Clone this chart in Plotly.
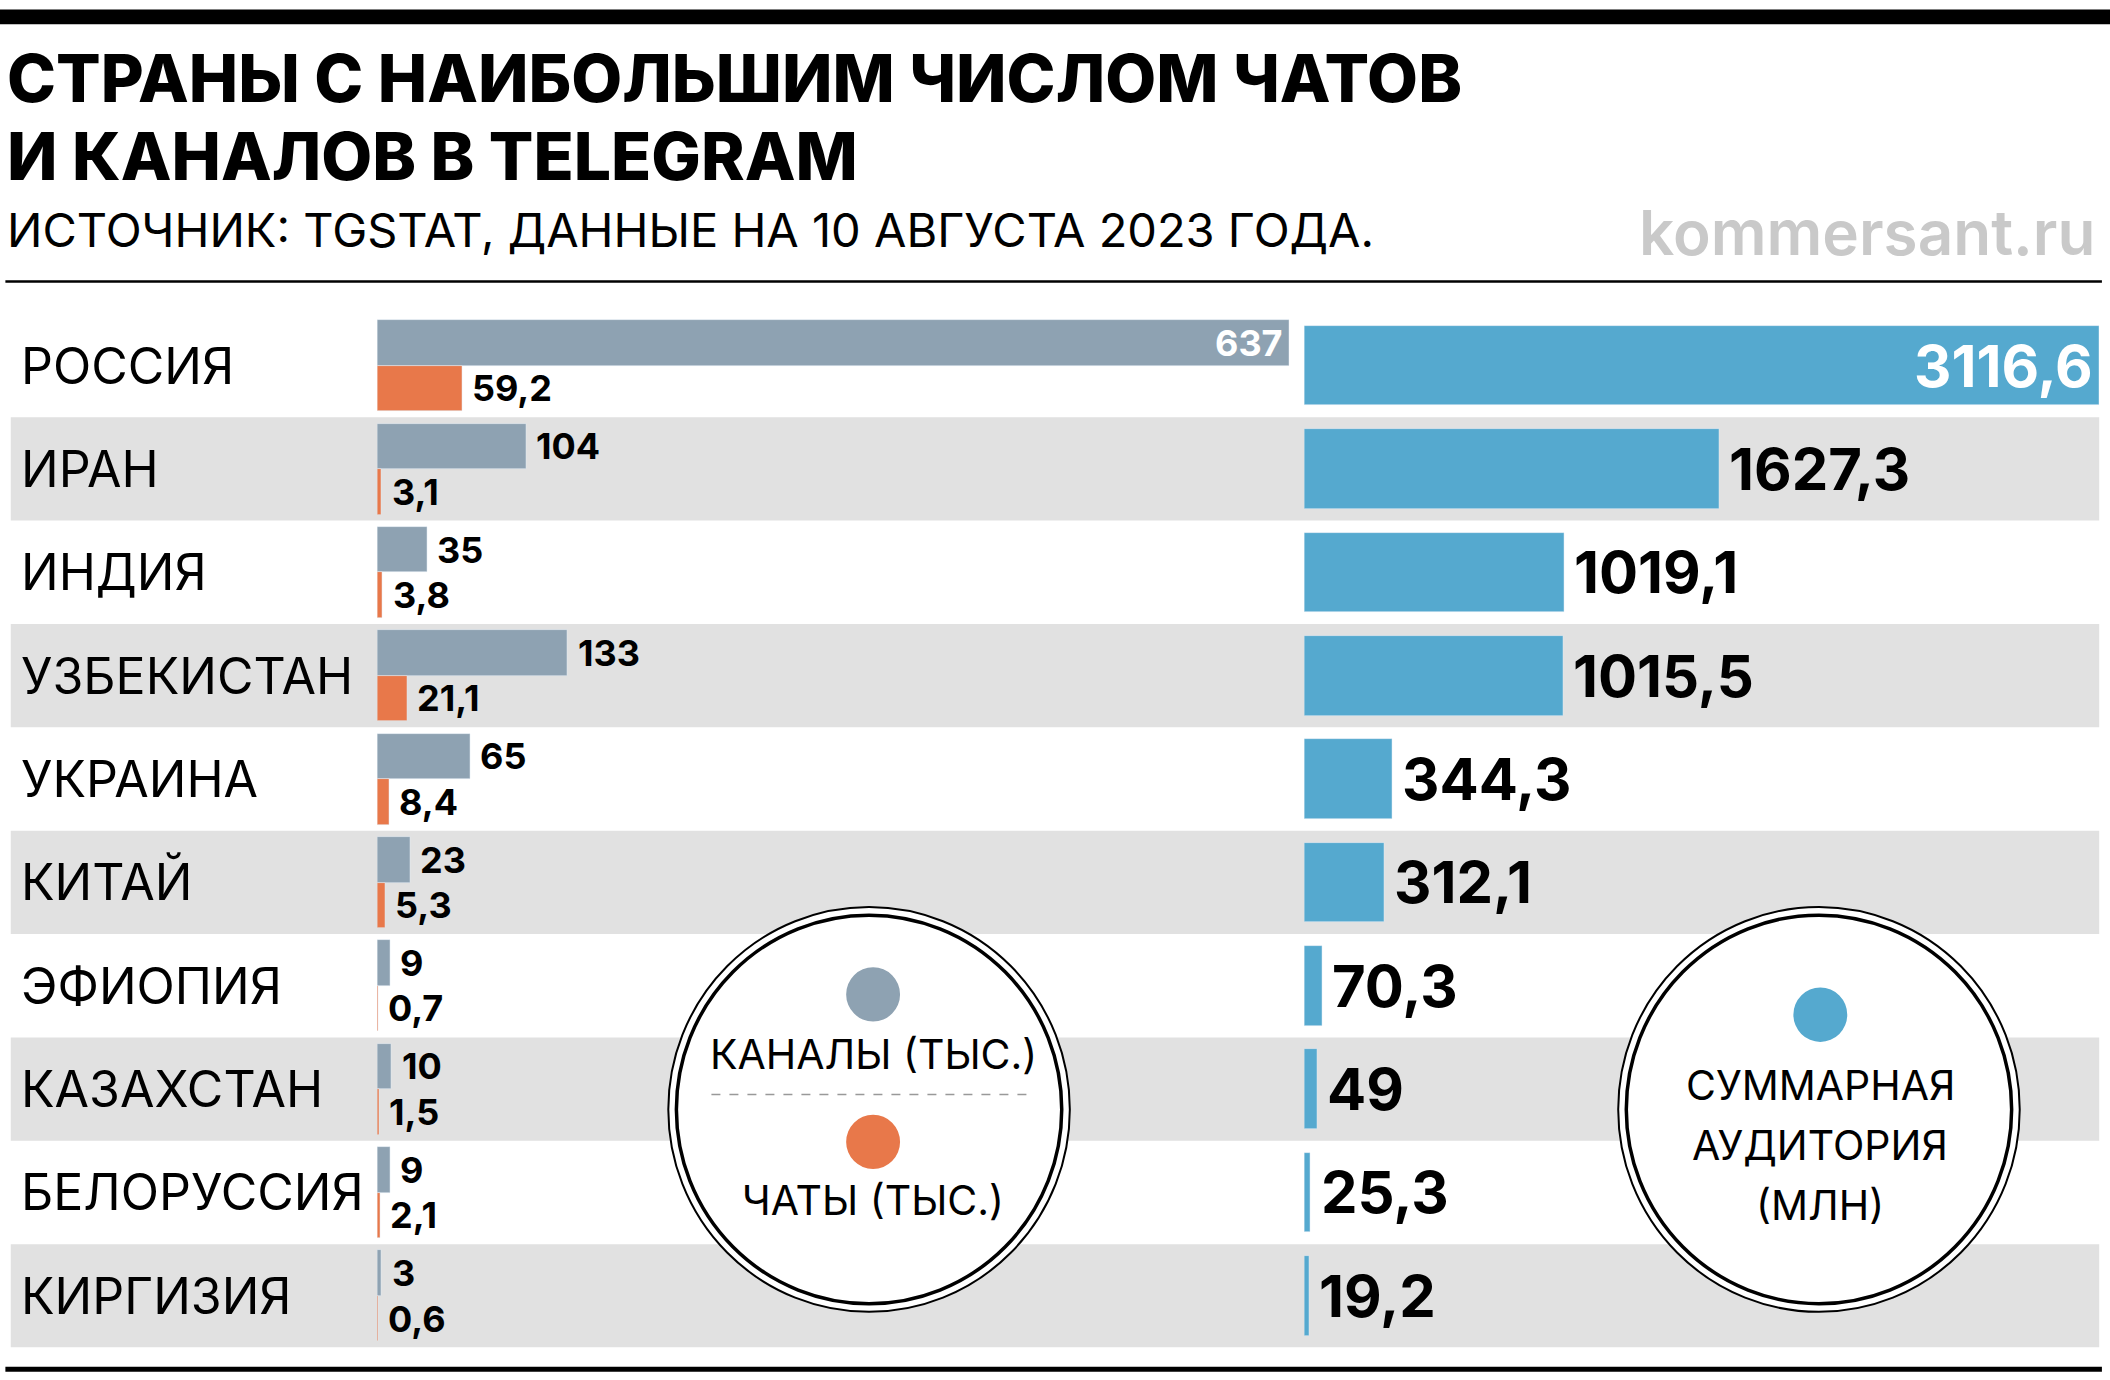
import plotly.graph_objects as go

countries = ["РОССИЯ", "ИРАН", "ИНДИЯ", "УЗБЕКИСТАН", "УКРАИНА", "КИТАЙ",
             "ЭФИОПИЯ", "КАЗАХСТАН", "БЕЛОРУССИЯ", "КИРГИЗИЯ"]
channels = [637, 104, 35, 133, 65, 23, 9, 10, 9, 3]
chats = [59.2, 3.1, 3.8, 21.1, 8.4, 5.3, 0.7, 1.5, 2.1, 0.6]
audience = [3116.6, 1627.3, 1019.1, 1015.5, 344.3, 312.1, 70.3, 49, 25.3, 19.2]

W, H = 2110, 1380
SW, SH = 1566, 1020  # reference sketch coordinates


def px(x, y):
    return x / SW, 1 - y / SH


def fmt(v):
    return str(v).replace(".", ",")


GREY = "#8ea2b2"
ORANGE = "#e8784a"
BLUE = "#55a9cf"
FONT = "Inter"

rows = list(range(len(countries)))
fig = go.Figure()

fig.add_trace(go.Bar(x=channels, y=[r - 0.22 for r in rows], width=0.44, orientation="h",
                     marker_color=GREY, xaxis="x", yaxis="y", hoverinfo="skip"))
fig.add_trace(go.Bar(x=chats, y=[r + 0.22 for r in rows], width=0.44, orientation="h",
                     marker_color=ORANGE, xaxis="x", yaxis="y", hoverinfo="skip"))
fig.add_trace(go.Bar(x=audience, y=rows, width=0.77, orientation="h",
                     marker_color=BLUE, xaxis="x2", yaxis="y", hoverinfo="skip"))

ann = []


def value_label(xref, x, y, s, size, inside):
    ann.append(dict(x=x, y=y, xref=xref, yref="y", text=s, showarrow=False,
                    xanchor="right" if inside else "left", yanchor="middle",
                    xshift=-4 if inside else 8,
                    font=dict(family=FONT, size=size, weight=700,
                              color="white" if inside else "black")))


for i, r in enumerate(rows):
    value_label("x", channels[i], r - 0.22, fmt(channels[i]), 36, i == 0)
    value_label("x", chats[i], r + 0.22, fmt(chats[i]), 36, False)
    value_label("x2", audience[i], r, fmt(audience[i]), 58, i == 0)

shapes = []
for r in rows:
    if r % 2 == 1:
        shapes.append(dict(type="rect", xref="paper", yref="y", layer="below",
                           x0=8 / SW, x1=1558 / SW, y0=r - 0.5, y1=r + 0.5,
                           fillcolor="#e1e1e1", line_width=0))
shapes.append(dict(type="rect", xref="paper", yref="paper", x0=0, x1=1,
                   y0=px(0, 18)[1], y1=px(0, 7)[1], fillcolor="black", line_width=0))
shapes.append(dict(type="line", xref="paper", yref="paper", x0=4 / SW, x1=1560 / SW,
                   y0=px(0, 208)[1], y1=px(0, 208)[1], line=dict(color="black", width=2.5)))
shapes.append(dict(type="line", xref="paper", yref="paper", x0=4 / SW, x1=1560 / SW,
                   y0=px(0, 1012)[1], y1=px(0, 1012)[1], line=dict(color="black", width=5)))


def circle(cx, cy, r, **kw):
    k = SW / W * H / SH
    x0, y0 = px(cx - r, cy + r * k)
    x1, y1 = px(cx + r, cy - r * k)
    d = dict(type="circle", xref="paper", yref="paper", x0=x0, x1=x1, y0=y0, y1=y1)
    d.update(kw)
    return d


for cx in (645, 1350):
    shapes.append(circle(cx, 820, 149, fillcolor="white", line=dict(color="black", width=2)))
    shapes.append(circle(cx, 820, 143, line=dict(color="black", width=3.5)))
shapes.append(circle(648, 735, 20, fillcolor=GREY, line_width=0))
shapes.append(circle(648, 844, 20, fillcolor=ORANGE, line_width=0))
shapes.append(circle(1351, 750, 20, fillcolor=BLUE, line_width=0))
shapes.append(dict(type="line", xref="paper", yref="paper",
                   x0=528 / SW, x1=762 / SW, y0=px(0, 809)[1], y1=px(0, 809)[1],
                   line=dict(color="#999999", width=1.5, dash="dash")))


def text(x, y, s, size, anchor="left", color="black", weight=400):
    xx, yy = px(x, y)
    ann.append(dict(x=xx, y=yy, xref="paper", yref="paper", text=s, showarrow=False,
                    xanchor=anchor, yanchor="middle", align="center",
                    font=dict(family=FONT, size=size, color=color, weight=weight)))


text(4, 58, "СТРАНЫ С НАИБОЛЬШИМ ЧИСЛОМ ЧАТОВ", 66, weight=800)
text(4, 115, "И КАНАЛОВ В TELEGRAM", 66, weight=800)
text(4, 170, "ИСТОЧНИК: TGSTAT, ДАННЫЕ НА 10 АВГУСТА 2023 ГОДА.", 47)
text(1556, 172, "kommersant.ru", 62, anchor="right", color="#c9c9c9", weight=600)
for r, c in zip(rows, countries):
    ann.append(dict(x=14 / SW, y=r, xref="paper", yref="y", text=c, showarrow=False,
                    xanchor="left", yanchor="middle",
                    font=dict(family=FONT, size=50, color="black")))
text(648, 779, "КАНАЛЫ (ТЫС.)", 41, anchor="center")
text(648, 887, "ЧАТЫ (ТЫС.)", 41, anchor="center")
text(1351, 802, "СУММАРНАЯ", 41, anchor="center")
text(1351, 846, "АУДИТОРИЯ", 41, anchor="center")
text(1351, 891, "(МЛН)", 41, anchor="center")

fig.update_layout(
    width=W, height=H, margin=dict(l=0, r=0, t=0, b=0),
    paper_bgcolor="white", plot_bgcolor="rgba(0,0,0,0)",
    showlegend=False, barmode="overlay", bargap=0,
    xaxis=dict(domain=[280 / SW, 957 / SW], range=[0, 637], visible=False, fixedrange=True),
    xaxis2=dict(domain=[968 / SW, 1558 / SW], range=[0, 3116.6], visible=False,
                anchor="y", fixedrange=True),
    yaxis=dict(domain=[1 - 996 / SH, 1 - 232 / SH], range=[9.5, -0.5], visible=False),
    shapes=shapes, annotations=ann,
)
fig.write_html("out.html", config={"displayModeBar": False},
               post_script="document.body.style.margin='0';")
